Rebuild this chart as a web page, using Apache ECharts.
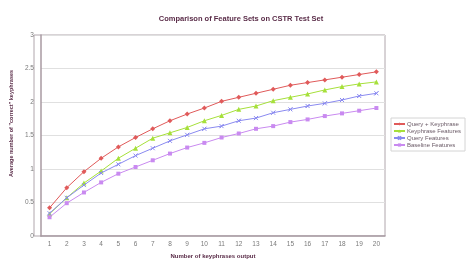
<!DOCTYPE html>
<html>
<head>
<meta charset="utf-8">
<script src="https://cdn.jsdelivr.net/npm/echarts@6/dist/echarts.min.js"></script>
<style>
  html, body { margin: 0; padding: 0; background: #fff; }
  #chart { width: 474px; height: 268px; }
</style>
</head>
<body>
<div id="chart"></div>
<script>
// 数据
const keyphraseCounts = ['1','2','3','4','5','6','7','8','9','10','11','12','13','14','15','16','17','18','19','20'];
const queryKeyphrase = [0.42,0.72,0.96,1.16,1.33,1.47,1.60,1.72,1.82,1.91,2.01,2.07,2.13,2.19,2.25,2.29,2.33,2.37,2.41,2.45];
const keyphraseFeatures = [0.33,0.57,0.79,0.97,1.16,1.31,1.46,1.54,1.62,1.72,1.80,1.89,1.94,2.02,2.07,2.12,2.18,2.23,2.27,2.30];
const queryFeatures = [0.34,0.57,0.76,0.94,1.07,1.20,1.31,1.42,1.51,1.60,1.64,1.72,1.76,1.84,1.89,1.94,1.98,2.03,2.09,2.13];
const baselineFeatures = [0.28,0.49,0.65,0.80,0.93,1.03,1.13,1.23,1.32,1.39,1.47,1.53,1.60,1.64,1.70,1.74,1.79,1.83,1.87,1.91];
const seriesNames = ['Query + Keyphrase','Keyphrase Features','Query Features','Baseline Features'];

const xMark = 'path://M0,0L1,1M1,0L0,1Z';

const myChart = echarts.init(document.getElementById('chart'));

const makeLine = (name, data, color, symbol, size) => ({
    name: name,
    type: 'line',
    data: data,
    symbol: symbol,
    symbolSize: size,
    showSymbol: true,
    lineStyle: { color: color, width: 1 },
    itemStyle: { color: color, borderColor: color, borderWidth: symbol === xMark ? 1 : 0 },
    emphasis: { disabled: true },
    animation: false
});

const option = {
    animation: false,
    title: {
        text: 'Comparison of Feature Sets on CSTR Test Set',
        left: 236,
        top: 10,
        textAlign: 'center',
        textStyle: { fontFamily: 'Liberation Sans', fontSize: 7.5, fontWeight: 'bold', color: '#5a2c48' }
    },
    legend: {
        orient: 'vertical',
        left: 391,
        top: 118,
        itemWidth: 11,
        itemHeight: 4,
        itemGap: 1,
        padding: [3, 4, 3, 2],
        borderColor: '#d4d4d4',
        borderWidth: 1,
        textStyle: { fontFamily: 'Liberation Sans', fontSize: 6, color: '#6a5a66', padding: [0, 0, 0, -3] },
        data: seriesNames
    },
    grid: { left: 34, right: 89, top: 35, bottom: 32 },
    xAxis: {
        type: 'category',
        data: keyphraseCounts,
        boundaryGap: true,
        name: 'Number of keyphrases output',
        nameLocation: 'middle',
        nameGap: 16,
        nameTextStyle: { fontFamily: 'Liberation Sans', fontSize: 6, fontWeight: 'bold', color: '#5a2c48' },
        axisLine: { show: true, lineStyle: { color: '#a89aa2', width: 1.5 } },
        axisTick: { show: false },
        axisLabel: { fontFamily: 'Liberation Sans', fontSize: 6.5, color: '#7a7a7a', margin: 5 }
    },
    yAxis: {
        type: 'value',
        min: 0,
        max: 3,
        interval: 0.5,
        name: 'Average number of "correct" keyphrases',
        nameLocation: 'middle',
        nameGap: 19,
        nameTextStyle: { fontFamily: 'Liberation Sans', fontSize: 5.5, fontWeight: 'bold', color: '#5a2c48', padding: [0, 0, 0, 24] },
        axisLine: { show: true, lineStyle: { color: '#a89aa2', width: 1.5 } },
        axisTick: { show: false },
        axisLabel: { fontFamily: 'Liberation Sans', fontSize: 6.5, color: '#7a7a7a', margin: 7 },
        splitLine: { lineStyle: { color: '#e0e0e0', width: 1 } }
    },
    series: [
        makeLine(seriesNames[0], queryKeyphrase, '#e05a5a', 'diamond', 5),
        makeLine(seriesNames[1], keyphraseFeatures, '#a6e03a', 'triangle', 5),
        makeLine(seriesNames[2], queryFeatures, '#8a8af0', xMark, 4),
        makeLine(seriesNames[3], baselineFeatures, '#c98af0', 'rect', 4)
    ],
    graphic: [{
        type: 'rect',
        shape: { x: 34, y: 35, width: 351, height: 201 },
        style: { fill: 'none', stroke: '#b0a6ac', lineWidth: 1 },
        silent: true
    }]
};
myChart.setOption(option);
</script>
</body>
</html>
